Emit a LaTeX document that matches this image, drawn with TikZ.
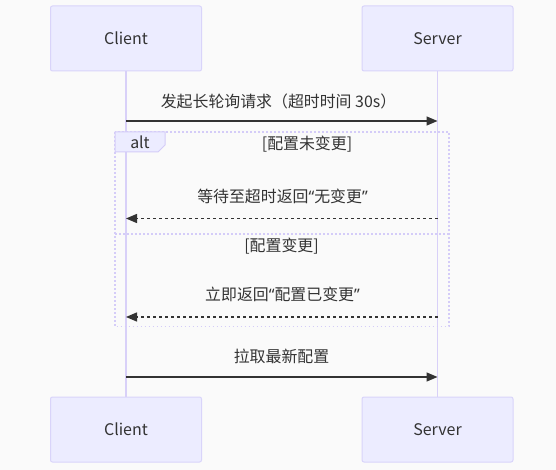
\documentclass[tikz,border=0pt]{standalone}
\usepackage{fontspec}
\setmainfont{Noto Sans CJK SC}
\newfontfamily\latq{Noto Sans}
\newcommand{\myLq}{{\latq “}}
\newcommand{\myRq}{{\latq ”}}
\usetikzlibrary{arrows.meta}
\definecolor{bg}{HTML}{FAFAFA}
\definecolor{actorfill}{HTML}{ECECFF}
\definecolor{actorline}{HTML}{D9D4FA}
\definecolor{lifeline}{HTML}{D8D0F8}
\definecolor{txt}{HTML}{333333}
\definecolor{altline}{HTML}{D4CCF8}
\tikzset{
  actor/.style={draw=actorline, fill=actorfill, line width=1pt, rounded corners=2pt,
    minimum width=151pt, minimum height=65pt, inner sep=0pt, text=txt, font=\fontsize{16pt}{18pt}\selectfont},
  life/.style={draw=lifeline, line width=1.6pt},
  msg/.style={text=txt, font=\fontsize{15.9pt}{18pt}\selectfont, inner sep=0pt},
  solidmsg/.style={draw=txt, line width=1.3pt, -{Triangle[length=11pt,width=9pt]}},
  dashmsg/.style={draw=txt, line width=1.3pt, dash pattern=on 3pt off 3pt, -{Triangle[length=11pt,width=9pt]}},
  altbox/.style={draw=altline, line width=1.6pt, dash pattern=on 1.6pt off 2.4pt},
}
\begin{document}
\begin{tikzpicture}[x=1pt,y=-1pt]
\fill[bg] (0,0) rectangle (556,470);
\useasboundingbox (0,0) rectangle (556,470);
% actors
\node[actor] (c1) at (126,38.5) {Client};
\node[actor] (s1) at (437.5,38.5) {Server};
\node[actor] (c2) at (126,429.5) {Client};
\node[actor] (s2) at (437.5,429.5) {Server};
% lifelines
\draw[life] (c1.south) -- (c2.north);
\draw[life] (s1.south) -- (s2.north);
% coordinates on lifelines
\coordinate (ca) at (126,121); \coordinate (sa) at (437.5,121);
\coordinate (cb) at (126,218.5); \coordinate (sb) at (437.5,218.5);
\coordinate (cc) at (126,317); \coordinate (sc) at (437.5,317);
\coordinate (cd) at (126,377); \coordinate (sd) at (437.5,377);
% message 1
\node[msg] (m1) at (278.5,101.5) {发起长轮询请求（超时时间 30s）};
\draw[solidmsg] (ca) -- (sa);
% alt frame
\coordinate (altA) at (115,132);
\coordinate (altB) at (449,326.5);
\draw[altbox] (altA) rectangle (altB);
\coordinate (sepL) at (115,234);
\coordinate (sepR) at (449,234);
\draw[altbox] (sepL) -- (sepR);
\draw[draw=altline, fill=actorfill, line width=1pt] (115,132) -- (165,132) -- (165,145) -- (158,152) -- (115,152) -- cycle;
\node[text=txt, font=\fontsize{15.9pt}{18pt}\selectfont, inner sep=0pt] (altlbl) at (140,142.5) {alt};
\node[msg] (g1) at (307,144) {[配置未变更]};
\node[msg] (m2) at (282.5,196.5) {等待至超时返回\myLq 无变更\myRq};
\draw[dashmsg] (sb) -- (cb);
\node[msg] (g2) at (281.5,246.5) {[配置变更]};
\node[msg] (m3) at (282.5,294) {立即返回\myLq 配置已变更\myRq};
\draw[dashmsg] (sc) -- (cc);
% message 4
\node[msg] (m4) at (281.5,356.5) {拉取最新配置};
\draw[solidmsg] (cd) -- (sd);
\end{tikzpicture}
\end{document}
